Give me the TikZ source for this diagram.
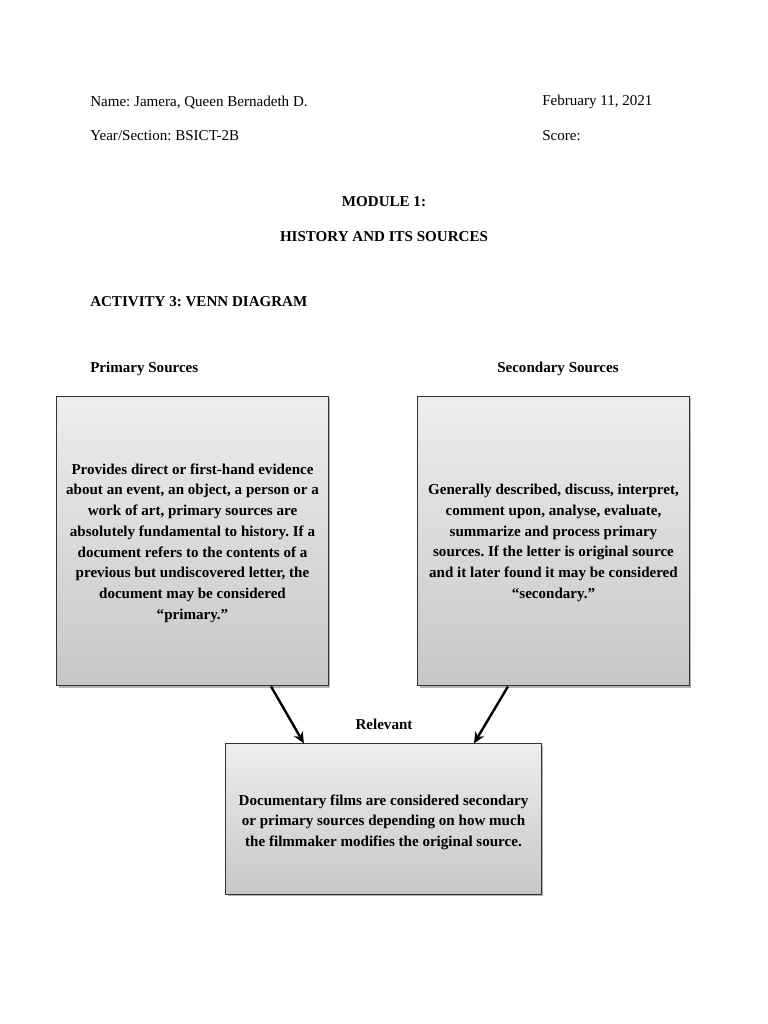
\documentclass[tikz,border=0pt]{standalone}
\usepackage{fontspec}
\setmainfont{Liberation Serif}
\usetikzlibrary{shadows,arrows.meta}
\tikzset{
  px/.style={x=0.797pt,y=-0.797pt},
  plain/.style={font=\fontsize{12}{14}\selectfont, inner sep=0pt},
  head/.style={font=\fontsize{12}{14}\selectfont\bfseries, inner sep=0pt},
  srcbox/.style={draw=black!80, line width=0.8pt, top color=black!7, bottom color=black!22,
     inner sep=0pt,
     drop shadow={shadow xshift=1.4pt, shadow yshift=-1.8pt, opacity=0.6}},
  boxtext/.style={align=center, font=\fontsize{12}{16.5}\selectfont\bfseries, inner sep=0pt},
  arr/.style={line width=1.9pt, -{Stealth[length=9pt,width=8pt]}}
}
\begin{document}
\frenchspacing
\begin{tikzpicture}[px]
\useasboundingbox (0,0) rectangle (768,1024);
\node[plain, anchor=west] (name) at (90,102) {Name: Jamera, Queen Bernadeth D.};
\node[plain, anchor=west] (date) at (542,102) {February 11, 2021};
\node[plain, anchor=west] (sect) at (90,136) {Year/Section: BSICT-2B};
\node[plain, anchor=west] (score) at (542,136) {Score:};
\node[head] (mod) at (384,202) {MODULE 1:};
\node[head] (hist) at (384,237) {HISTORY AND ITS SOURCES};
\node[head, anchor=west] (act) at (90,302) {ACTIVITY 3: VENN DIAGRAM};
\node[head, anchor=west] (ps) at (90,369) {Primary Sources};
\node[head, anchor=west] (ss) at (497,369) {Secondary Sources};
\node[head] (rel) at (384,724) {Relevant};

\node[srcbox, minimum width=216pt, minimum height=231.1pt] (lb) at (192.5,541) {};
\node[boxtext] (lbt) at ([yshift=-1.6pt]lb.center)
 {Provides direct or first-hand evidence\\about an event, an object, a person or a\\work of art, primary sources are\\absolutely fundamental to history. If a\\document refers to the contents of a\\previous but undiscovered letter, the\\document may be considered\\“primary.”};
\node[srcbox, minimum width=216pt, minimum height=231.1pt] (rb) at (553.5,541) {};
\node[boxtext] (rbt) at ([yshift=-1.6pt]rb.center)
 {Generally described, discuss, interpret,\\comment upon, analyse, evaluate,\\summarize and process primary\\sources. If the letter is original source\\and it later found it may be considered\\“secondary.”};
\node[srcbox, minimum width=251.1pt, minimum height=119.6pt] (bb) at (383.5,819) {};
\node[boxtext] (bbt) at ([yshift=-2.6pt]bb.center)
 {Documentary films are considered secondary\\or primary sources depending on how much\\the filmmaker modifies the original source.};

\draw[arr] ([xshift=62.6pt]lb.south) -- ([xshift=-63.4pt]bb.north);
\draw[arr] ([xshift=-36.3pt]rb.south) -- ([xshift=72.1pt]bb.north);
\end{tikzpicture}
\end{document}
